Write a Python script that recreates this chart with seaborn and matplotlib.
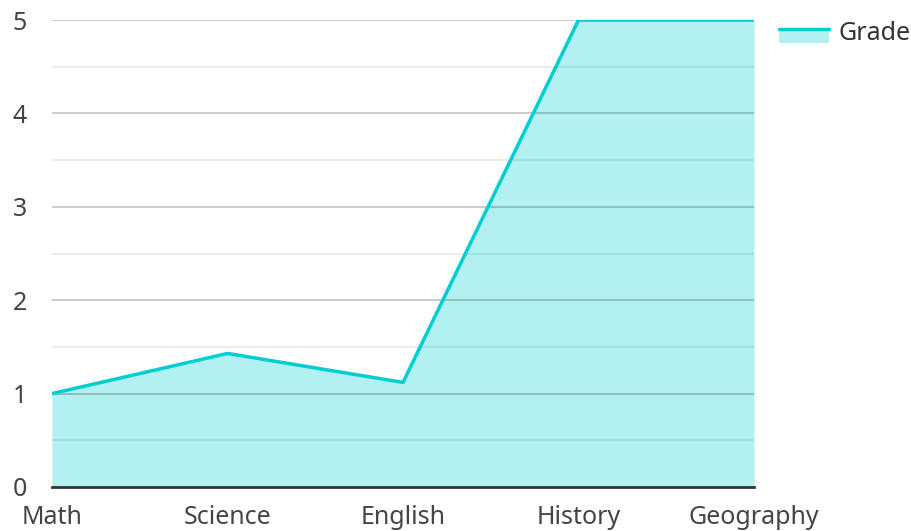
import matplotlib
matplotlib.use("Agg")
import matplotlib.pyplot as plt
import seaborn as sns
import pandas as pd
from matplotlib.legend_handler import HandlerBase
from matplotlib.patches import Rectangle
from matplotlib.lines import Line2D

subjects = ["Math", "Science", "English", "History", "Geography"]
grades = [1.0, 1.43, 1.12, 5.0, 5.0]
series_name = "Grade"

LINE = "#00CED1"
FILL = (0/255, 206/255, 209/255, 0.3)

sns.set_theme(style="white")
plt.rcParams["font.family"] = ["Noto Sans", "DejaVu Sans"]

df = pd.DataFrame({"pos": range(len(subjects)), "grade": grades})

fig = plt.figure(figsize=(9.11, 5.31), dpi=100)
ax = fig.add_axes([52/911, 1 - 487/531, (754 - 52)/911, (487 - 20)/531])

ax.fill_between(df["pos"], 0, df["grade"], color=FILL, linewidth=0, zorder=1)
sns.lineplot(data=df, x="pos", y="grade", color=LINE, linewidth=2.5, ax=ax, zorder=3)

ax.set_xlim(0, len(subjects) - 1)
ax.set_ylim(0, 5)
ax.set_xticks(range(len(subjects)))
ax.set_xticklabels(subjects)
ax.set_yticks(range(0, 6))
ax.set_xlabel("")
ax.set_ylabel("")

for y in range(1, 6):
    ax.axhline(y, color="black", alpha=0.2, linewidth=1.5, zorder=2)
for y in [0.5, 1.5, 2.5, 3.5, 4.5]:
    ax.axhline(y, color="black", alpha=0.08, linewidth=1.5, zorder=2)

for s in ["top", "right", "left"]:
    ax.spines[s].set_visible(False)
ax.spines["bottom"].set_color("#333333")
ax.spines["bottom"].set_linewidth(2)
ax.spines["bottom"].set_zorder(4)

ax.tick_params(axis="both", which="both", length=0, labelsize=18, labelcolor="#444444")
ax.tick_params(axis="y", pad=18)
ax.tick_params(axis="x", pad=13)


class AreaHandler(HandlerBase):
    def create_artists(self, legend, orig_handle, xdescent, ydescent, width, height, fontsize, trans):
        rect = Rectangle((-xdescent, -ydescent - height * 0.2), width, height * 0.85,
                         facecolor=FILL, edgecolor="none", transform=trans)
        ln = Line2D([-xdescent, -xdescent + width], [-ydescent + height * 0.62, -ydescent + height * 0.62],
                    color=LINE, linewidth=2.5, transform=trans)
        return [rect, ln]


proxy = Rectangle((0, 0), 1, 1)
leg = fig.legend([proxy], [series_name], handler_map={Rectangle: AreaHandler()},
                 loc="center left", bbox_to_anchor=(779/911, 1 - 33/531),
                 bbox_transform=fig.transFigure, frameon=False,
                 fontsize=18, handlelength=2.0, handletextpad=0.36,
                 borderaxespad=0, borderpad=0)
for t in leg.get_texts():
    t.set_color("#333333")

fig.savefig("out.png", dpi=100)
